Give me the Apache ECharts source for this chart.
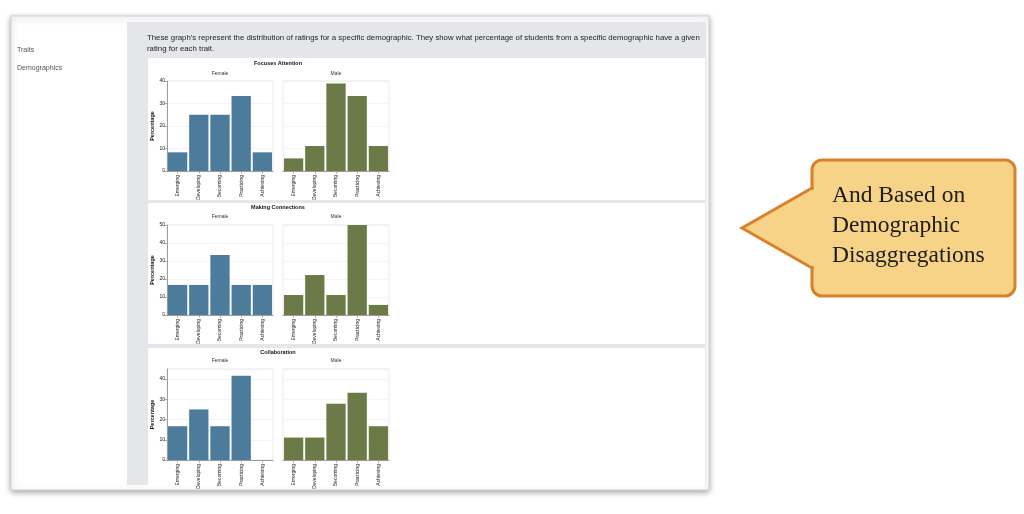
<!DOCTYPE html>
<html>
<head>
<meta charset="utf-8">
<script src="https://cdn.jsdelivr.net/npm/echarts@6/dist/echarts.min.js"></script>
<style>
  html, body { margin: 0; padding: 0; background: #fff; }
  #chart { width: 1024px; height: 514px; }
</style>
</head>
<body>
<div id="chart"></div>
<script>
// ratings on the x axis
const ratings = ['Emerging', 'Developing', 'Becoming', 'Practicing', 'Achieving'];
const traits = ['Focuses Attention', 'Making Connections', 'Collaboration'];
const groups = ['Female', 'Male'];

// percentage of students per rating
const femaleFocus = [8.3, 25, 25, 33.3, 8.3];
const maleFocus = [5.6, 11.1, 38.9, 33.3, 11.1];
const femaleConnections = [16.7, 16.7, 33.3, 16.7, 16.7];
const maleConnections = [11.1, 22.2, 11.1, 50, 5.6];
const femaleCollab = [16.7, 25, 16.7, 41.7, 0];
const maleCollab = [11.1, 11.1, 27.8, 33.3, 16.7];

const yMax = [40, 50, 45];
const yStep = 10;

const panelData = [
    [femaleFocus, maleFocus],
    [femaleConnections, maleConnections],
    [femaleCollab, maleCollab]
];

const colors = ['#4d7b9c', '#6b7a47'];

// layout of each panel (px)
const panelTop = [81, 225, 369];
const plotH = [90, 90, 91];
const plotLeft = [167, 283];
const plotW = 106;
const titleY = [63, 207, 352];
const subY = [74, 217, 361];

const sans = 'Liberation Sans, Arial, sans-serif';
const serif = 'Liberation Serif, DejaVu Serif, serif';

const myChar = echarts.init(document.getElementById('chart'));

let grids = [], xAxes = [], yAxes = [], series = [];
let texts = [];

traits.forEach((trait, p) => {
    texts.push({
        type: 'text', z: 10,
        style: { x: 278, y: titleY[p], text: trait, fontSize: 5.5, fontWeight: 'bold', fill: '#111',
            align: 'center', verticalAlign: 'middle', fontFamily: sans }
    });
    groups.forEach((g, k) => {
        const idx = grids.length;
        grids.push({
            left: plotLeft[k], top: panelTop[p], width: plotW, height: plotH[p],
            show: true, borderColor: '#dddddd', borderWidth: 0.6, backgroundColor: 'transparent'
        });
        texts.push({
            type: 'text', z: 10,
            style: { x: plotLeft[k] + plotW / 2, y: subY[p], text: g, fontSize: 5, fill: '#333',
                align: 'center', verticalAlign: 'middle', fontFamily: sans }
        });
        xAxes.push({
            type: 'category', gridIndex: idx, data: ratings,
            axisLine: { lineStyle: { color: '#888', width: 0.8 } },
            axisTick: { show: true, length: 3, alignWithLabel: true, lineStyle: { color: '#888', width: 0.6 } },
            axisLabel: { rotate: 90, fontSize: 5, color: '#222', margin: 4, fontFamily: sans }
        });
        yAxes.push({
            type: 'value', gridIndex: idx, min: 0, max: yMax[p], interval: yStep,
            name: k === 0 ? 'Percentage' : '',
            nameLocation: 'middle', nameGap: 9,
            nameTextStyle: { fontSize: 5.5, fontWeight: 'bold', color: '#111', fontFamily: sans },
            axisLine: { show: k === 0, lineStyle: { color: '#888', width: 0.8 } },
            axisTick: { show: k === 0, length: 3, lineStyle: { color: '#888', width: 0.6 } },
            axisLabel: { show: k === 0, fontSize: 5, color: '#222', margin: 2,
                showMaxLabel: yMax[p] % yStep === 0, fontFamily: sans },
            splitLine: { lineStyle: { color: '#ececec', width: 0.6 } }
        });
        series.push({
            type: 'bar', xAxisIndex: idx, yAxisIndex: idx,
            data: panelData[p][k],
            barCategoryGap: '9%',
            itemStyle: { color: colors[k] },
            silent: true
        });
    });
});

// page background and callout
const page = [
    { type: 'rect', z: -10, shape: { x: 11, y: 16, width: 698, height: 474 },
      style: { fill: '#fff', stroke: '#d0d0d0', lineWidth: 1, shadowBlur: 6, shadowColor: 'rgba(0,0,0,0.35)', shadowOffsetY: 2 } },
    { type: 'rect', z: -9, shape: { x: 127, y: 22, width: 579, height: 463 }, style: { fill: '#e4e6ea' } },
    { type: 'rect', z: -8, shape: { x: 148, y: 58, width: 557, height: 142 }, style: { fill: '#fff' } },
    { type: 'rect', z: -8, shape: { x: 148, y: 203, width: 557, height: 141 }, style: { fill: '#fff' } },
    { type: 'rect', z: -8, shape: { x: 148, y: 348, width: 557, height: 137 }, style: { fill: '#fff' } },
    { type: 'text', style: { x: 17, y: 50, text: 'Traits', fontSize: 7, fill: '#555', verticalAlign: 'middle', fontFamily: sans } },
    { type: 'text', style: { x: 17, y: 68, text: 'Demographics', fontSize: 7, fill: '#555', verticalAlign: 'middle', fontFamily: sans } },
    { type: 'text', style: { x: 147, y: 37.5, fontSize: 7.8, fill: '#222', verticalAlign: 'middle', fontFamily: sans,
        text: "These graph's represent the distribution of ratings for a specific demographic. They show what percentage of students from a specific demographic have a given" } },
    { type: 'text', style: { x: 147, y: 48.5, fontSize: 7.8, fill: '#222', verticalAlign: 'middle', fontFamily: sans,
        text: 'rating for each trait.' } },
    // callout box
    { type: 'rect', z: 20, shape: { x: 812, y: 160, width: 203, height: 136, r: 10 },
      style: { fill: '#f6d386', stroke: '#d8812c', lineWidth: 3 } },
    { type: 'polygon', z: 21, shape: { points: [[812, 188], [742, 228], [812, 268]] },
      style: { fill: '#f6d386', stroke: '#d8812c', lineWidth: 3, lineJoin: 'miter' } },
    { type: 'rect', z: 22, shape: { x: 810, y: 190, width: 8, height: 76 }, style: { fill: '#f6d386' } },
    { type: 'text', z: 23, style: { x: 832, y: 196, text: 'And Based on', fontSize: 23.5, fill: '#1c1c1c', verticalAlign: 'middle', fontFamily: serif } },
    { type: 'text', z: 23, style: { x: 832, y: 226, text: 'Demographic', fontSize: 23.5, fill: '#1c1c1c', verticalAlign: 'middle', fontFamily: serif } },
    { type: 'text', z: 23, style: { x: 832, y: 256, text: 'Disaggregations', fontSize: 23.5, fill: '#1c1c1c', verticalAlign: 'middle', fontFamily: serif } }
];

const options = {
    animation: false,
    grid: grids,
    xAxis: xAxes,
    yAxis: yAxes,
    series: series,
    graphic: { elements: page.concat(texts) }
};

myChar.setOption(options);
</script>
</body>
</html>
